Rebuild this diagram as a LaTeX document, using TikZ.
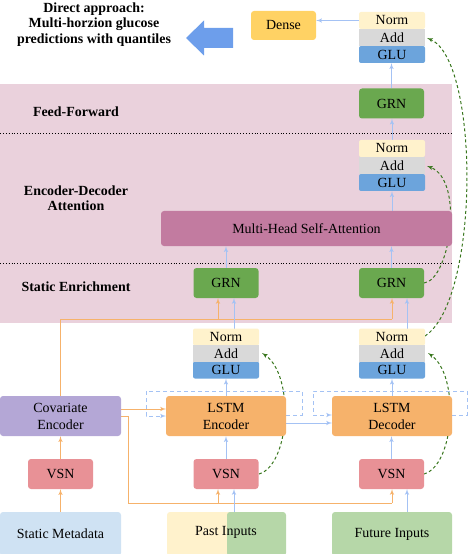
\documentclass[tikz,border=0pt]{standalone}
\usepackage{fontspec}
\setmainfont{Liberation Serif}
\usepackage{tikz}
\usetikzlibrary{arrows}
\pgfdeclarelayer{bglayer}
\pgfdeclarelayer{edgelayer}
\pgfdeclarelayer{nodelayer}
\pgfsetlayers{bglayer,edgelayer,nodelayer,main}
\definecolor{bandpink}{RGB}{234,209,220}
\definecolor{densegold}{RGB}{255,210,100}
\definecolor{normcream}{RGB}{255,242,204}
\definecolor{addgrey}{RGB}{217,217,217}
\definecolor{glublue}{RGB}{108,164,220}
\definecolor{grngreen}{RGB}{106,168,79}
\definecolor{attnmauve}{RGB}{194,123,160}
\definecolor{covpurple}{RGB}{180,167,214}
\definecolor{lstmorange}{RGB}{246,178,107}
\definecolor{vsnred}{RGB}{232,145,150}
\definecolor{metablue}{RGB}{207,226,243}
\definecolor{inputgreen}{RGB}{182,215,168}
\definecolor{flowblue}{RGB}{164,194,244}
\definecolor{ctxorange}{RGB}{246,178,107}
\definecolor{skipgreen}{RGB}{56,118,29}
\definecolor{bigblue}{RGB}{109,158,235}
\tikzstyle{none} = []
\tikzstyle{block}=[rounded corners=3bp, inner sep=0pt, align=center, font=\fontsize{14}{17}\selectfont]
\tikzstyle{dense box}=[block, fill=densegold, minimum width=65bp, minimum height=29bp]
\tikzstyle{norm box}=[block, fill=normcream, minimum width=66bp, minimum height=17bp, rounded corners=2bp]
\tikzstyle{add box}=[block, fill=addgrey, minimum width=66bp, minimum height=17.5bp, sharp corners]
\tikzstyle{glu box}=[block, fill=glublue, minimum width=66bp, minimum height=17bp, rounded corners=2bp]
\tikzstyle{grn box}=[block, fill=grngreen, minimum width=65bp, minimum height=30bp]
\tikzstyle{attn box}=[block, fill=attnmauve, minimum width=291bp, minimum height=35bp]
\tikzstyle{cov box}=[block, fill=covpurple, minimum width=121bp, minimum height=40bp]
\tikzstyle{lstm box}=[block, fill=lstmorange, minimum width=120bp, minimum height=40bp]
\tikzstyle{vsn box}=[block, fill=vsnred, minimum width=65bp, minimum height=30bp]
\tikzstyle{input box}=[block, minimum height=44bp]
\tikzstyle{band label}=[align=center, font=\fontsize{14}{15.5}\selectfont\bfseries]
\tikzstyle{flow}=[draw=flowblue, line width=1bp, -latex']
\tikzstyle{context}=[draw=ctxorange, line width=1bp]
\tikzstyle{context arrow}=[context, -latex']
\tikzstyle{state loop}=[draw=flowblue, line width=1bp, dash pattern=on 4bp off 3bp]
\tikzstyle{skip}=[draw=skipgreen, line width=1bp, dash pattern=on 3bp off 2.5bp, -latex']

\begin{document}
\begin{tikzpicture}[x=1bp, y=-1bp]
	\useasboundingbox (0,0) rectangle (468,554);
	\begin{pgfonlayer}{bglayer}
		\fill [bandpink] (0,84) rectangle (452,323);
		\draw [dotted, line width=0.9bp] (0,133) -- (452,133);
		\draw [dotted, line width=0.9bp] (0,263) -- (452,263);
	\end{pgfonlayer}
	\begin{pgfonlayer}{nodelayer}
		\node [style=dense box] (0) at (283.5,25.5) {Dense};
		\node [style=norm box] (1) at (392,20.5) {Norm};
		\node [style=glu box] (3) at (392,54.5) {GLU};
		\node [style=add box] (2) at (392,37.5) {Add};
		\node [style=grn box] (4) at (391.5,103.5) {GRN};
		\node [style=norm box] (5) at (392,148.5) {Norm};
		\node [style=glu box] (7) at (392,182.5) {GLU};
		\node [style=add box] (6) at (392,165.5) {Add};
		\node [style=attn box] (8) at (306.5,228.5) {Multi-Head Self-Attention};
		\node [style=grn box] (9) at (226,283) {GRN};
		\node [style=grn box] (10) at (391.5,283) {GRN};
		\node [style=norm box] (11) at (226,337) {Norm};
		\node [style=glu box] (13) at (226,370) {GLU};
		\node [style=add box] (12) at (226,353.5) {Add};
		\node [style=norm box] (14) at (392,337) {Norm};
		\node [style=glu box] (16) at (392,370) {GLU};
		\node [style=add box] (15) at (392,353.5) {Add};
		\node [style=cov box] (17) at (60.5,416) {Covariate\\Encoder};
		\node [style=lstm box] (18) at (226,416) {LSTM\\Encoder};
		\node [style=lstm box] (19) at (392,416) {LSTM\\Decoder};
		\node [style=vsn box] (20) at (60.5,474) {VSN};
		\node [style=vsn box] (21) at (226,474) {VSN};
		\node [style=vsn box] (22) at (391.5,474) {VSN};
		\node [style=input box, fill=metablue, minimum width=121bp] (23) at (60.5,534) {Static Metadata};
		\node [style=input box, fill=normcream, minimum width=68bp] (24) at (201,534) {};
		\node [style=input box, fill=inputgreen, minimum width=59bp] (25) at (256.5,534) {};
		\node [style=none, font=\fontsize{14}{17}\selectfont] (26) at (226,532) {Past Inputs};
		\node [style=input box, fill=inputgreen, minimum width=120bp] (27) at (392,534) {Future Inputs};
		\node [style=band label] (28) at (94,24.5) {Direct approach:\\Multi-horzion glucose\\predictions with quantiles};
		\node [style=band label] (29) at (76,112) {Feed-Forward};
		\node [style=band label] (30) at (76,198) {Encoder-Decoder\\Attention};
		\node [style=band label] (31) at (76,287) {Static Enrichment};
		\node [style=none] (32) at (60.5,319) {};
		\node [style=none] (33) at (218,319) {};
		\node [style=none] (34) at (392,319) {};
		\node [style=none] (35) at (218,298) {};
		\node [style=none] (36) at (392,298) {};
		\node [style=none] (37) at (121,409) {};
		\node [style=none] (38) at (166,409) {};
		\node [style=none] (39) at (121,416) {};
		\node [style=none] (40) at (128,416) {};
		\node [style=none] (41) at (128,503) {};
		\node [style=none] (42) at (218,503) {};
		\node [style=none] (43) at (392,503) {};
		\node [style=none] (44) at (218,489) {};
		\node [style=none] (45) at (392,489) {};
		\node [style=none] (46) at (234,512) {};
		\node [style=none] (47) at (234,489) {};
		\node [style=none] (48) at (407,512) {};
		\node [style=none] (49) at (407,489) {};
		\node [style=none] (50) at (234,329) {};
		\node [style=none] (51) at (234,298) {};
		\node [style=none] (52) at (407,329) {};
		\node [style=none] (53) at (407,298) {};
		\node [style=none] (54) at (286,423) {};
		\node [style=none] (55) at (332,423) {};
		\node [style=none] (56) at (286,415) {};
		\node [style=none] (57) at (302,415) {};
		\node [style=none] (58) at (302,391) {};
		\node [style=none] (59) at (146,391) {};
		\node [style=none] (60) at (146,416) {};
		\node [style=none] (61) at (166,416) {};
		\node [style=none] (62) at (452,415) {};
		\node [style=none] (63) at (467,415) {};
		\node [style=none] (64) at (467,391) {};
		\node [style=none] (65) at (313,391) {};
		\node [style=none] (66) at (313,415) {};
		\node [style=none] (67) at (332,415) {};
		\node [style=none] (68) at (259,474) {};
		\node [style=none] (69) at (262,353) {};
		\node [style=none] (70) at (424,474) {};
		\node [style=none] (71) at (428,353) {};
		\node [style=none] (72) at (424,283) {};
		\node [style=none] (73) at (427,166) {};
		\node [style=none] (74) at (425,336) {};
		\node [style=none] (75) at (427,38) {};
	\end{pgfonlayer}
	\begin{pgfonlayer}{edgelayer}
		% static context
		\draw [style=context] (17.north) -- (32.center) -- (34.center);
		\draw [style=context arrow] (33.center) -- (35.center);
		\draw [style=context arrow] (34.center) -- (36.center);
		\draw [style=context arrow] (37.center) -- (38.center);
		\draw [style=context] (39.center) -- (40.center) -- (41.center) -- (43.center);
		\draw [style=context arrow] (42.center) -- (44.center);
		\draw [style=context arrow] (43.center) -- (45.center);
		\draw [style=context arrow] (23.north) -- (20.south);
		\draw [style=context arrow] (20.north) -- (17.south);
		% main flow
		\draw [style=flow] (46.center) -- (47.center);
		\draw [style=flow] (48.center) -- (49.center);
		\draw [style=flow] (21.north) -- (18.south);
		\draw [style=flow] (22.north) -- (22.north |- 19.south);
		\draw [style=flow] (18.north) -- (13.south);
		\draw [style=flow] (19.north) -- (16.south);
		\draw [style=flow] (50.center) -- (51.center);
		\draw [style=flow] (52.center) -- (53.center);
		\draw [style=flow] (9.north) -- (9.north |- 8.south);
		\draw [style=flow] (10.north) -- (10.north |- 8.south);
		\draw [style=flow] (8.north -| 7.south) -- (7.south);
		\draw [style=flow] (5.north) -- (5.north |- 4.south);
		\draw [style=flow] (4.north) -- (4.north |- 3.south);
		\draw [style=flow] (1.west) -- (1.west -| 0.east);
		\draw [style=flow] (54.center) -- (55.center);
		% lstm state
		\draw [style=state loop, -latex'] (56.center) -- (57.center) -- (58.center) -- (59.center) -- (60.center) -- (61.center);
		\draw [style=state loop, -latex'] (62.center) -- (63.center) -- (64.center) -- (65.center) -- (66.center) -- (67.center);
		% skip connections
		\draw [style=skip] (68.center) .. controls (290,465) and (295,375) .. (69.center);
		\draw [style=skip] (70.center) .. controls (455,465) and (460,375) .. (71.center);
		\draw [style=skip] (72.center) .. controls (450,280) and (465,180) .. (73.center);
		\draw [style=skip] (74.center) .. controls (480,300) and (480,60) .. (75.center);
	\end{pgfonlayer}
	\fill [bigblue] (186,38) -- (204,20.5) -- (204,28) -- (233,28) -- (233,48) -- (204,48) -- (204,55.5) -- cycle;
\end{tikzpicture}
\end{document}
